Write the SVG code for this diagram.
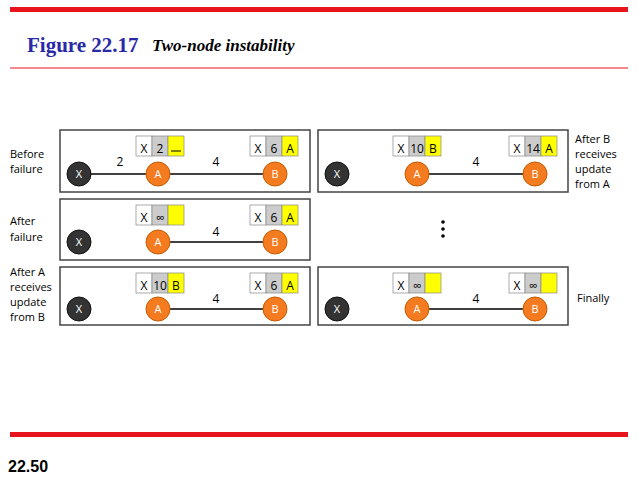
<svg xmlns="http://www.w3.org/2000/svg" width="638" height="478" viewBox="0 0 638 478">
<style>
.p{fill:#fff;stroke:#444;stroke-width:1.5}
.c{stroke:#000;stroke-width:1.5}
.n{fill:#f47b20;stroke:#c85a00;stroke-width:1}
.x{fill:#333;stroke:#111}
.nt{font-family:"Open Sans","Liberation Sans",sans-serif;font-size:11px;fill:#fff;text-anchor:middle}
.t{font-family:"Open Sans","Liberation Sans",sans-serif;font-size:11px;fill:#000}
.ct{font-family:"Open Sans","Liberation Sans",sans-serif;font-size:12px;fill:#000;text-anchor:middle}
.w{fill:#fff;stroke:#888;stroke-width:0.7}
.g{fill:#ccc;stroke:#888;stroke-width:0.7}
.y{fill:#ff0;stroke:#888;stroke-width:0.7}
</style>
<defs>
<g id="tb"><rect class="w" x="0" y="0" width="16" height="20"/><rect class="g" x="16" y="0" width="16" height="20"/><rect class="y" x="32" y="0" width="16" height="20"/></g>
</defs>
<rect x="10" y="7" width="618" height="5" fill="#e8141b"/>
<text x="27" y="52" font-family="Liberation Serif,serif" font-size="21" font-weight="bold" fill="#2a2aa8">Figure 22.17</text>
<text x="152" y="51" font-family="Liberation Serif,serif" font-size="17" font-weight="bold" font-style="italic">Two-node instability</text>
<line x1="10" y1="68" x2="628" y2="68" stroke="#e8141b" stroke-width="1"/>
<rect x="10" y="432" width="618" height="5" fill="#e8141b"/>
<text x="8" y="472" font-family="Liberation Sans,sans-serif" font-size="16" font-weight="bold">22.50</text>

<g id="labels">
<text class="t" x="10" y="158">Before</text><text class="t" x="10" y="173">failure</text>
<text class="t" x="10" y="225">After</text><text class="t" x="10" y="241">failure</text>
<text class="t" x="10" y="276">After A</text><text class="t" x="10" y="291">receives</text><text class="t" x="10" y="306">update</text><text class="t" x="10" y="321">from B</text>
<text class="t" x="575" y="143">After B</text><text class="t" x="575" y="158">receives</text><text class="t" x="575" y="173">update</text><text class="t" x="575" y="188">from A</text>
<text class="t" x="577" y="302">Finally</text>
</g>

<g id="panels">
<rect class="p" x="60" y="130" width="250" height="62"/>
<rect class="p" x="60" y="199" width="250" height="61"/>
<rect class="p" x="60" y="267" width="250" height="58"/>
<rect class="p" x="318" y="130" width="250" height="62"/>
<rect class="p" x="318" y="267" width="250" height="58"/>
</g>

<g id="connectors">
<line class="c" x1="79" y1="174" x2="158" y2="174"/>
<line class="c" x1="158" y1="174" x2="275" y2="174"/>
<line class="c" x1="158" y1="242" x2="275" y2="242"/>
<line class="c" x1="158" y1="309" x2="275" y2="309"/>
<line class="c" x1="417" y1="174" x2="535" y2="174"/>
<line class="c" x1="417" y1="309" x2="535" y2="309"/>
<text class="ct" x="120" y="166">2</text>
<text class="ct" x="216" y="166">4</text>
<text class="ct" x="216" y="236">4</text>
<text class="ct" x="216" y="303">4</text>
<text class="ct" x="476" y="166">4</text>
<text class="ct" x="476" y="303">4</text>
</g>

<g id="tables">
<use href="#tb" x="136" y="136"/><text class="ct" x="144" y="153">X</text><text class="ct" x="160" y="153">2</text><line x1="171" y1="151" x2="181" y2="151" stroke="#000"/>
<use href="#tb" x="250" y="136"/><text class="ct" x="258" y="153">X</text><text class="ct" x="274" y="153">6</text><text class="ct" x="290" y="153">A</text>
<use href="#tb" x="136" y="205"/><text class="ct" x="144" y="222">X</text><text class="ct" x="160" y="222">∞</text>
<use href="#tb" x="250" y="205"/><text class="ct" x="258" y="222">X</text><text class="ct" x="274" y="222">6</text><text class="ct" x="290" y="222">A</text>
<use href="#tb" x="136" y="273"/><text class="ct" x="144" y="290">X</text><text class="ct" x="160" y="290">10</text><text class="ct" x="176" y="290">B</text>
<use href="#tb" x="250" y="273"/><text class="ct" x="258" y="290">X</text><text class="ct" x="274" y="290">6</text><text class="ct" x="290" y="290">A</text>
<use href="#tb" x="393" y="136"/><text class="ct" x="401" y="153">X</text><text class="ct" x="417" y="153">10</text><text class="ct" x="433" y="153">B</text>
<use href="#tb" x="509" y="136"/><text class="ct" x="517" y="153">X</text><text class="ct" x="533" y="153">14</text><text class="ct" x="549" y="153">A</text>
<use href="#tb" x="393" y="273"/><text class="ct" x="401" y="290">X</text><text class="ct" x="417" y="290">∞</text>
<use href="#tb" x="509" y="273"/><text class="ct" x="517" y="290">X</text><text class="ct" x="533" y="290">∞</text>
</g>

<g id="nodeX1"><circle class="x" cx="79" cy="174" r="12"/><text class="nt" x="79" y="178">X</text></g>
<g id="nodeA1"><circle class="n" cx="158" cy="174" r="12"/><text class="nt" x="158" y="178">A</text></g>
<g id="nodeB1"><circle class="n" cx="275" cy="174" r="12"/><text class="nt" x="275" y="178">B</text></g>
<g id="nodeX2"><circle class="x" cx="79" cy="242" r="12"/><text class="nt" x="79" y="246">X</text></g>
<g id="nodeA2"><circle class="n" cx="158" cy="242" r="12"/><text class="nt" x="158" y="246">A</text></g>
<g id="nodeB2"><circle class="n" cx="275" cy="242" r="12"/><text class="nt" x="275" y="246">B</text></g>
<g id="nodeX3"><circle class="x" cx="79" cy="309" r="12"/><text class="nt" x="79" y="313">X</text></g>
<g id="nodeA3"><circle class="n" cx="158" cy="309" r="12"/><text class="nt" x="158" y="313">A</text></g>
<g id="nodeB3"><circle class="n" cx="275" cy="309" r="12"/><text class="nt" x="275" y="313">B</text></g>
<g id="nodeX4"><circle class="x" cx="337" cy="174" r="12"/><text class="nt" x="337" y="178">X</text></g>
<g id="nodeA4"><circle class="n" cx="417" cy="174" r="12"/><text class="nt" x="417" y="178">A</text></g>
<g id="nodeB4"><circle class="n" cx="535" cy="174" r="12"/><text class="nt" x="535" y="178">B</text></g>
<g id="nodeX5"><circle class="x" cx="337" cy="309" r="12"/><text class="nt" x="337" y="313">X</text></g>
<g id="nodeA5"><circle class="n" cx="417" cy="309" r="12"/><text class="nt" x="417" y="313">A</text></g>
<g id="nodeB5"><circle class="n" cx="535" cy="309" r="12"/><text class="nt" x="535" y="313">B</text></g>

<g id="dots" fill="#000"><circle cx="443" cy="222" r="1.8"/><circle cx="443" cy="229" r="1.8"/><circle cx="443" cy="236" r="1.8"/></g>
</svg>
